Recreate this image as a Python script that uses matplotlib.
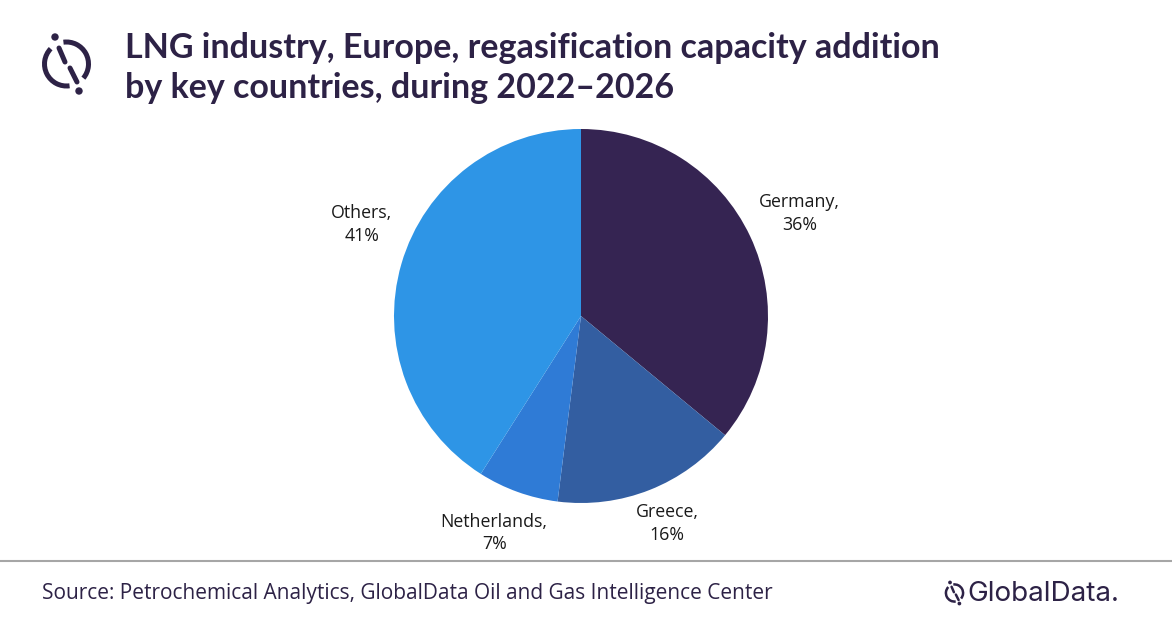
import numpy as np
import matplotlib.pyplot as plt
from matplotlib.patches import Arc, Circle
from matplotlib.lines import Line2D

# ── Data ─────────────────────────────────────────────────────────────────────
countries = ["Germany", "Greece", "Netherlands", "Others"]
shares = [36, 16, 7, 41]

# ── Style ────────────────────────────────────────────────────────────────────
NAVY = "#2d2246"
COLORS = ["#352452", "#335ea1", "#2f7bd6", "#2e95e6"]
TEXT = "#1a1a1a"
plt.rcParams["font.family"] = ["Open Sans", "DejaVu Sans"]

W, H = 1172, 628
fig = plt.figure(figsize=(W / 100, H / 100), dpi=100, facecolor="white")

def fx(px):
    return px / W

def fy(py):
    return 1 - py / H

# overlay axes in pixel coords (y down) for logos / rule
lax = fig.add_axes([0, 0, 1, 1], facecolor="none")
lax.set_xlim(0, W)
lax.set_ylim(H, 0)
lax.axis("off")

def draw_logo(cx, cy, s, lw):
    # s = scale relative to the big logo (radius 22 px); y axis points down,
    # so arc angles are mirrored
    r = 22 * s
    lax.add_patch(Arc((cx, cy), 2 * r, 2 * r, theta1=-98, theta2=40, color=NAVY, lw=lw))
    lax.add_patch(Arc((cx, cy), 2 * r, 2 * r, theta1=82, theta2=224, color=NAVY, lw=lw))
    segs = [((-7.5, -16), (-1.5, -2)), ((3.5, 4), (10.5, 18))]
    for (x0, y0), (x1, y1) in segs:
        lax.add_line(Line2D([cx + x0 * s, cx + x1 * s], [cy + y0 * s, cy + y1 * s],
                            color=NAVY, lw=lw, solid_capstyle="round"))
    for dx, dy in [(-11.5, -27), (12.5, 27)]:
        lax.add_patch(Circle((cx + dx * s, cy + dy * s), 3 * s, color=NAVY))

# ── Title ────────────────────────────────────────────────────────────────────
fig.text(fx(125), fy(48), "LNG industry, Europe, regasification capacity addition",
         fontsize=24.5, fontweight="bold", color=NAVY, va="center", ha="left",
         family="Lato")
fig.text(fx(125), fy(88), "by key countries, during 2022\u20132026",
         fontsize=24.5, fontweight="bold", color=NAVY, va="center", ha="left",
         family="Lato")

draw_logo(66.5, 64, 1.0, 3.6)

# ── Pie ──────────────────────────────────────────────────────────────────────
pc_x, pc_y, pr = 581, 316, 187
ax = fig.add_axes([fx(pc_x - pr), fy(pc_y + pr), 2 * pr / W, 2 * pr / H])
wedges, _ = ax.pie(shares, colors=COLORS, startangle=90, counterclock=False,
                   radius=1, wedgeprops=dict(linewidth=0))
ax.set_xlim(-1, 1)
ax.set_ylim(-1, 1)
ax.set_aspect("equal")
ax.axis("off")

label_dist = [1.29, 1.20, 1.25, 1.27]
label_nudge = [0.0, 1.0, -2.0, -6.5]
for w, name, val, d, nd in zip(wedges, countries, shares, label_dist, label_nudge):
    ang = np.deg2rad((w.theta1 + w.theta2) / 2 + nd)
    ax.text(d * np.cos(ang), d * np.sin(ang), f"{name},\n{val}%",
            ha="center", va="center", fontsize=12.8, color=TEXT,
            linespacing=1.35, clip_on=False)

# ── Footer ───────────────────────────────────────────────────────────────────
lax.add_line(Line2D([0, W], [561, 561], color="#a6a6a6", lw=1.5))
fig.text(fx(42), fy(593),
         "Source: Petrochemical Analytics, GlobalData Oil and Gas Intelligence Center",
         fontsize=15, color=NAVY, va="center", ha="left")

draw_logo(954.5, 593, 0.39, 1.8)
fig.text(fx(967), fy(594), "GlobalData.", fontsize=20, color=NAVY,
         va="center", ha="left", family="Inter")

fig.savefig("out.png", dpi=100, facecolor="white")
